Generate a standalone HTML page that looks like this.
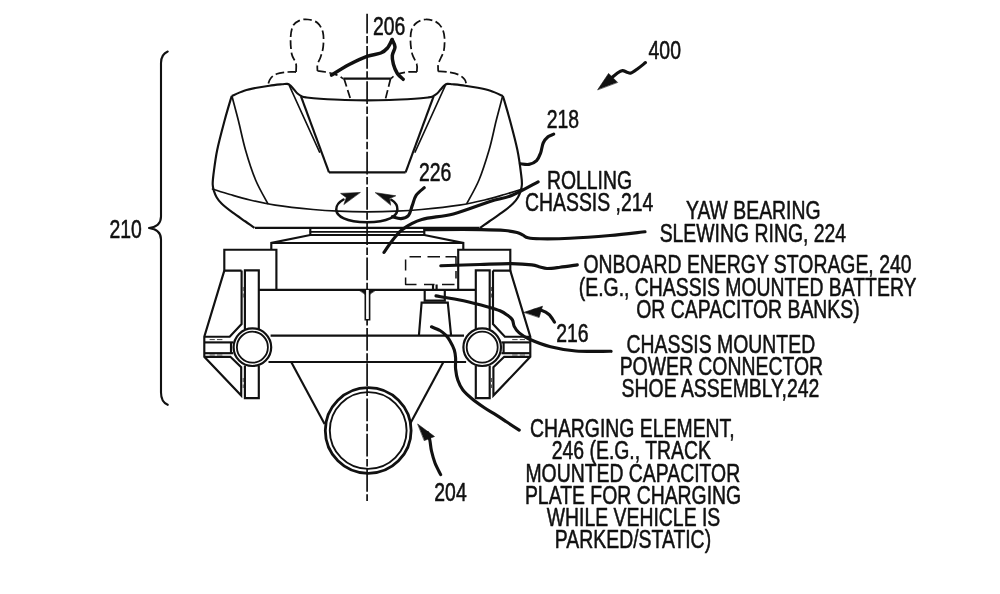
<!DOCTYPE html>
<html><head><meta charset="utf-8"><title>Figure 400</title>
<style>
html,body{margin:0;padding:0;background:#fff;}
svg{display:block;}
text{font-family:"Liberation Sans",sans-serif;font-size:25.4px;fill:#111;stroke:#111;stroke-width:0.55px;stroke-linejoin:round;}
</style></head>
<body>
<svg width="1000" height="594" viewBox="0 0 1000 594" style="will-change:transform">
<rect width="1000" height="594" fill="#fff"/>
<g fill="none" stroke="#111" stroke-linecap="round" stroke-linejoin="round">
<g stroke-width="1.75" stroke-dasharray="8.5 3.5" stroke-linecap="butt">
<path d="M296.0 72.0 C296.0 70.6 296.7 66.5 296.0 63.5 C295.3 60.5 292.7 58.5 291.8 54.2 C290.9 50.0 290.4 42.7 290.6 38.0 C290.8 33.3 291.5 28.9 292.9 26.0 C294.3 23.1 296.7 21.7 299.2 20.6 C301.7 19.5 304.9 19.1 308.0 19.5 C311.1 19.9 315.1 20.8 317.6 23.0 C320.1 25.2 322.1 28.8 323.0 32.7 C323.9 36.6 323.6 42.6 323.2 46.6 C322.8 50.6 321.6 53.8 320.7 56.7 C319.8 59.7 318.0 61.9 317.5 64.3 C317.0 66.7 317.5 69.9 317.5 71.0"/>
<path d="M296.0 72.0 C294.6 72.0 291.1 71.7 287.8 72.0 C284.6 72.3 279.4 72.9 276.5 74.0 C273.6 75.1 271.8 76.9 270.4 78.8 C268.9 80.7 268.2 84.4 267.8 85.5"/>
<path d="M317.5 71.0 C318.9 71.2 322.6 71.4 325.7 72.0 C328.8 72.6 332.9 73.5 335.8 74.6 C338.8 75.7 342.1 78.1 343.4 78.8"/>
<path d="M416.8 72.0 C416.8 70.7 417.6 67.3 416.8 64.3 C416.1 61.3 413.4 58.0 412.3 54.2 C411.2 50.4 410.6 45.7 410.5 41.6 C410.4 37.5 410.6 32.7 411.7 29.5 C412.8 26.3 414.7 24.2 417.0 22.5 C419.3 20.8 422.5 19.6 425.6 19.5 C428.7 19.4 433.0 20.2 435.7 21.6 C438.4 23.0 440.5 25.3 442.0 28.0 C443.5 30.7 444.2 34.1 444.5 37.8 C444.8 41.5 444.5 47.0 443.9 50.4 C443.3 53.8 441.8 55.7 440.8 58.0 C439.9 60.3 438.6 62.1 438.2 64.3 C437.8 66.5 438.2 70.2 438.2 71.4"/>
<path d="M416.8 72.0 C415.3 72.0 411.4 71.6 408.0 72.0 C404.6 72.4 399.4 73.5 396.6 74.6 C393.8 75.7 391.9 77.8 391.0 78.5"/>
<path d="M438.2 71.4 C439.7 71.5 443.7 71.5 447.1 72.0 C450.5 72.5 455.5 73.3 458.4 74.6 C461.3 75.9 463.3 77.7 464.7 79.6 C466.1 81.5 466.3 84.9 466.6 86.0"/>
<path d="M344.0 78.5 L350.3 98.5"/>
<path d="M390.6 78.5 L385.6 98.5"/>
<path stroke-dasharray="none" stroke-width="1.5" d="M409.5 256.8H421M427.5 256.8H440M445.5 256.8H456V264M456 271V278.5M454.5 284.4H442M434.5 284.4H424M416.5 284.4H405.6V277.5M405.6 270.5V259.5"/>
</g>
<path d="M367.1 13.8 V501" stroke-width="1.7" stroke-dasharray="22.75 2.5 7.5 2.5" stroke-dashoffset="3.15" stroke-linecap="butt" fill="none"/>
<g stroke-width="2.15" stroke-linejoin="miter" stroke-linecap="butt">
<path d="M231.7 96.0 C230.5 100.1 227.0 111.5 224.6 120.5 C222.2 129.5 219.1 140.9 217.2 150.0 C215.3 159.1 214.2 169.2 213.4 175.0 C212.7 180.8 212.6 181.9 212.7 184.5 C212.8 187.1 213.2 188.5 213.8 190.6 C214.5 192.7 215.3 195.0 216.6 197.2 C217.9 199.4 219.1 201.2 221.8 203.8 C224.5 206.4 228.9 209.8 232.8 212.7 C236.8 215.6 241.9 219.0 245.5 221.5 C249.1 224.0 253.0 226.8 254.5 227.8"/>
<path d="M502.9 96.0 C504.1 100.1 507.6 111.5 510.0 120.5 C512.4 129.5 515.5 140.9 517.4 150.0 C519.3 159.1 520.5 169.2 521.2 175.0 C522.0 180.8 522.0 181.9 521.9 184.5 C521.8 187.1 521.4 188.5 520.8 190.6 C520.1 192.7 519.3 195.0 518.0 197.2 C516.7 199.4 515.5 201.2 512.8 203.8 C510.1 206.4 505.8 209.8 501.8 212.7 C497.9 215.6 492.7 219.0 489.1 221.5 C485.5 224.0 481.6 226.8 480.1 227.8"/>
<path d="M255.0 227.8 L479.6 227.8"/>
<path d="M231.7 96.0 C233.8 95.1 240.0 92.2 244.2 90.8 C248.4 89.4 252.6 88.6 256.8 87.8 C261.0 87.0 265.2 86.3 269.4 85.7 C273.6 85.1 279.0 84.6 282.0 84.3 C285.0 84.0 285.9 83.7 287.3 83.9 C288.7 84.1 289.4 84.7 290.5 85.6 C291.6 86.5 292.8 88.2 294.0 89.5 C295.2 90.8 296.2 92.4 297.5 93.5 C298.8 94.6 300.1 95.5 301.5 96.2 C302.9 96.9 302.9 97.0 306.0 97.4 C309.1 97.8 313.5 98.4 320.0 98.8 C326.5 99.2 337.1 99.8 345.0 100.0 C352.9 100.2 359.9 100.3 367.3 100.3 C374.7 100.3 381.7 100.2 389.6 100.0 C397.5 99.8 408.1 99.2 414.6 98.8 C421.1 98.4 425.5 97.8 428.6 97.4 C431.7 97.0 431.7 96.9 433.1 96.2 C434.5 95.5 435.9 94.6 437.1 93.5 C438.4 92.4 439.4 90.8 440.6 89.5 C441.8 88.2 443.0 86.5 444.1 85.6 C445.2 84.7 445.9 84.1 447.3 83.9 C448.7 83.7 449.6 84.0 452.6 84.3 C455.6 84.6 461.0 85.1 465.2 85.7 C469.4 86.3 473.6 87.0 477.8 87.8 C482.0 88.6 486.2 89.4 490.4 90.8 C494.6 92.2 500.8 95.1 502.9 96.0"/>
<path d="M301.0 96.3 L329.0 172.3"/>
<path d="M433.6 96.3 L405.6 172.3"/>
<path d="M329.0 172.3 L405.6 172.3"/>
<path d="M310.3 227.8 L310.3 235.0"/>
<path d="M424.3 227.8 L424.3 235.0"/>
<path d="M271.3 250.0 L271.3 243.0 L310.3 235.0 L424.3 235.0 L463.3 243.0 L463.3 250.0"/>
<path d="M271.3 243.0 L463.3 243.0"/>
<path d="M241.6 270.6 L224.3 270.6 L224.3 249.7 L276.4 249.7 L276.4 289.9"/>
<path d="M493.0 270.6 L510.3 270.6 L510.3 249.7 L458.2 249.7 L458.2 289.9"/>
<path d="M258.8 289.9 L475.8 289.9"/>
<path d="M244.9 329.0 L244.9 270.4 L258.8 270.4 L258.8 329.0"/>
<path d="M489.7 329.0 L489.7 270.4 L475.8 270.4 L475.8 329.0"/>
<path d="M241.6 270.6 L241.6 324.0 L229.7 336.7 L204.3 336.7"/>
<path d="M493.0 270.6 L493.0 324.0 L504.9 336.7 L530.3 336.7"/>
<path d="M224.3 270.6 L204.3 336.7 L204.3 356.8 L241.2 395.6 L241.2 367.1 L230.4 356.8 L204.3 356.8"/>
<path d="M510.3 270.6 L530.3 336.7 L530.3 356.8 L493.4 395.6 L493.4 367.1 L504.2 356.8 L530.3 356.8"/>
<path d="M233.2 342.4 L204.8 342.4"/>
<path d="M501.4 342.4 L529.8 342.4"/>
<path d="M233.2 353.2 L204.8 353.2"/>
<path d="M501.4 353.2 L529.8 353.2"/>
<path d="M231.0 342.4 L231.0 353.2"/>
<path d="M503.6 342.4 L503.6 353.2"/>
<path d="M244.9 365.5 L244.9 398.1 L258.8 398.1 L258.8 365.5"/>
<path d="M489.7 365.5 L489.7 398.1 L475.8 398.1 L475.8 365.5"/>
<path d="M270.6 335.6 L464.0 335.6"/>
<path d="M268.5 362.0 L466.1 362.0"/>
<path d="M291.2 362.0 L324.6 424.0"/>
<path d="M443.4 362.0 L410.0 424.0"/>
<path d="M433.0 284.5 L433.0 290.0"/>
<path d="M436.6 284.5 L436.6 290.0"/>
<path d="M424.7 290.0 L424.7 300.6 L444.8 300.6 L444.8 290.0"/>
<path d="M418.9 335.6 L421.6 302.6 L447.8 302.6 L451.1 335.6"/>
<path d="M343.5 78.6 L390.8 78.6"/>
</g>
<g stroke-width="1.7">
<path d="M289.5 86.0 L319.5 152.0"/>
<path d="M445.1 86.0 L415.1 152.0"/>
<path d="M232.2 97.0 C233.2 101.0 236.3 112.2 238.5 121.0 C240.7 129.8 242.7 140.2 245.5 150.0 C248.3 159.8 251.9 171.1 255.6 180.0 C259.3 188.9 265.7 199.5 267.7 203.4"/>
<path d="M502.4 97.0 C501.4 101.0 498.3 112.2 496.1 121.0 C493.9 129.8 492.0 140.2 489.1 150.0 C486.2 159.8 482.7 171.1 479.0 180.0 C475.3 188.9 468.9 199.5 466.9 203.4"/>
<path d="M212.5 189.0 C215.4 189.9 223.8 192.7 230.0 194.5 C236.2 196.3 242.4 198.2 250.0 200.0 C257.6 201.8 264.8 203.5 275.3 205.1 C285.8 206.7 302.6 208.5 313.1 209.5 C323.6 210.5 329.4 210.8 338.4 211.2 C347.4 211.6 357.7 211.8 367.3 211.8 C376.9 211.8 387.2 211.6 396.2 211.2 C405.2 210.8 411.0 210.5 421.5 209.5 C432.0 208.5 448.8 206.7 459.3 205.1 C469.8 203.5 477.1 201.8 484.6 200.0 C492.2 198.2 498.4 196.3 504.6 194.5 C510.9 192.7 519.2 189.9 522.1 189.0"/>
<path d="M310.3 231.8 L424.3 231.8"/>
</g>
<g stroke-width="1" stroke-linecap="butt" stroke="#444">
<path d="M209.6 339.6 L214.8 339.6"/>
<path d="M525.0 339.6 L519.8 339.6"/>
<path d="M217.0 339.6 L222.4 339.6"/>
<path d="M517.6 339.6 L512.2 339.6"/>
<path d="M209.6 355.0 L214.8 355.0"/>
<path d="M525.0 355.0 L519.8 355.0"/>
<path d="M217.0 355.0 L222.4 355.0"/>
<path d="M517.6 355.0 L512.2 355.0"/>
<path d="M243.2 287.0 L243.2 291.0"/>
<path d="M491.4 287.0 L491.4 291.0"/>
<path d="M243.2 293.5 L243.2 297.5"/>
<path d="M491.4 293.5 L491.4 297.5"/>
<path d="M243.2 378.0 L243.2 382.0"/>
<path d="M491.4 378.0 L491.4 382.0"/>
<path d="M243.2 384.5 L243.2 388.0"/>
<path d="M491.4 384.5 L491.4 388.0"/>
</g>

<circle cx="252.4" cy="347.2" r="18.8" fill="#fff" stroke-width="2.2"/>
<circle cx="252.4" cy="347.2" r="15.5" fill="none" stroke-width="1.8"/>
<circle cx="482.2" cy="347.2" r="18.8" fill="#fff" stroke-width="2.2"/>
<circle cx="482.2" cy="347.2" r="15.5" fill="none" stroke-width="1.8"/>
<circle cx="368.2" cy="430.5" r="42.9" fill="none" stroke-width="2.8"/>
<circle cx="368.2" cy="430.5" r="38.4" fill="none" stroke-width="1.9"/>

<path d="M365.3 290 V319.8 H369.6 V290" fill="#fff" stroke-width="1.6" stroke-linejoin="miter"/>
<path stroke-width="2.5" d="M343.5 199.5 C333.6 205 334 214 343.8 218.3 C354.5 223.4 379.5 223.4 390.2 218.3 C399.6 214 399.6 205 391.3 199.8"/>
<g stroke-width="3.5">
<path d="M331.5 75.1 C334.4 73.3 343.3 67.6 349.2 64.5 C355.1 61.4 361.6 58.2 366.9 56.3 C372.2 54.4 377.4 54.4 380.8 53.0 C384.2 51.6 385.6 50.2 387.5 48.0 C389.4 45.8 391.3 41.0 392.1 39.6"/>
<path d="M392.1 39.6 C392.6 40.8 395.0 44.4 395.0 47.0 C395.0 49.6 392.6 52.6 392.3 55.5 C392.0 58.4 392.6 61.3 393.4 64.3 C394.2 67.2 395.6 70.7 397.2 73.2 C398.8 75.7 402.2 78.3 403.2 79.3"/>
</g>
<g stroke-width="3.15">
<path d="M553.7 134.1 C552.8 134.6 549.8 135.3 548.0 136.8 C546.2 138.3 544.4 140.3 543.2 143.0 C542.0 145.7 541.7 150.1 540.6 153.0 C539.5 155.9 538.5 158.7 536.6 160.6 C534.7 162.5 531.7 163.9 529.0 164.4 C526.3 164.9 521.8 163.9 520.4 163.8"/>
<path d="M538.1 181.8 C533.7 184.1 519.6 192.2 511.6 195.5 C503.6 198.8 499.7 198.4 490.0 201.5 C480.3 204.6 464.8 210.9 453.4 213.9 C442.0 216.9 430.2 217.0 421.8 219.5 C413.4 222.0 407.9 225.5 402.9 229.1 C397.9 232.7 395.1 237.1 392.0 241.0 C388.9 244.9 385.3 250.5 384.0 252.4"/>
<path d="M425.0 229.6 C434.4 229.6 468.0 229.4 481.3 229.6 C494.6 229.8 499.1 230.0 505.0 230.5 C510.9 231.0 514.0 231.7 517.0 232.5 C520.0 233.3 521.2 234.3 523.0 235.2 C524.8 236.1 525.2 237.2 528.0 237.8 C530.8 238.4 533.0 238.7 540.0 238.8 C547.0 238.9 558.3 238.9 570.0 238.3 C581.7 237.8 597.5 236.6 610.0 235.5 C622.5 234.4 639.2 232.4 645.0 231.8"/>
<path d="M440.8 265.7 C447.3 265.5 468.2 264.9 480.0 264.5 C491.8 264.1 503.0 263.5 511.6 263.6 C520.2 263.7 527.1 264.3 531.8 264.9 C536.5 265.5 537.5 266.4 540.0 267.0 C542.5 267.6 543.7 268.4 547.0 268.5 C550.3 268.6 555.0 267.9 560.0 267.3 C565.0 266.7 574.4 265.3 577.3 264.9"/>
<path d="M436.0 295.9 C440.6 296.7 454.9 298.9 463.6 300.8 C472.3 302.7 481.9 305.3 488.0 307.0 C494.1 308.7 496.7 309.4 500.0 310.8 C503.3 312.2 505.5 313.8 507.6 315.3 C509.7 316.8 511.3 318.0 512.4 319.9 C513.5 321.8 513.1 324.2 514.2 326.4 C515.3 328.6 516.7 330.8 519.2 332.9 C521.7 335.0 523.8 336.7 529.0 339.0 C534.2 341.3 542.7 344.8 550.5 346.8 C558.3 348.8 565.7 350.2 575.8 351.0 C585.9 351.8 605.2 351.2 611.1 351.3"/>
<path d="M431.5 326.8 C432.9 327.4 437.6 329.1 440.0 330.5 C442.4 331.9 444.3 333.6 446.0 335.4 C447.7 337.1 448.6 338.6 450.0 341.0 C451.4 343.4 453.4 347.2 454.3 350.0 C455.2 352.8 455.4 354.8 455.6 358.0 C455.8 361.2 455.2 365.3 455.6 369.0 C456.0 372.7 456.6 376.5 457.8 380.0 C459.0 383.5 460.5 386.9 462.9 390.0 C465.3 393.1 468.5 395.8 472.0 398.7 C475.5 401.6 480.1 404.8 484.0 407.5 C487.9 410.2 491.9 412.4 495.6 414.7 C499.3 417.0 502.1 418.9 506.0 421.5 C509.9 424.1 517.0 428.7 519.2 430.1"/>
<path d="M424.3 187.7 C422.9 189.0 418.1 192.4 416.1 195.3 C414.1 198.2 413.6 202.0 412.3 205.4 C411.0 208.8 410.4 213.3 408.5 215.5 C406.6 217.7 403.7 218.4 401.0 218.6 C398.3 218.8 393.9 217.0 392.5 216.7"/>
<path d="M554.5 322.2 C553.6 320.9 551.1 316.4 549.0 314.5 C546.9 312.6 544.4 311.3 541.9 310.6 C539.4 309.9 535.3 310.4 534.0 310.4"/>
<path d="M440.7 474.7 C439.8 472.8 436.5 466.9 435.0 463.0 C433.5 459.1 432.4 454.8 431.5 451.0 C430.6 447.2 430.5 443.1 429.8 440.0 C429.1 436.9 427.9 433.8 427.5 432.5"/>
<path d="M645.5 62.6 C644.2 63.6 640.4 66.8 638.0 68.5 C635.6 70.2 632.8 72.4 631.0 73.0 C629.2 73.6 628.4 72.6 627.0 72.2 C625.6 71.8 624.1 70.5 622.5 70.6 C620.9 70.7 619.2 71.8 617.5 73.0 C615.8 74.2 612.9 76.8 612.0 77.5"/>
</g>
<g stroke-width="2.1">
<path d="M167.7 51.5 C163 53.5 161 57 161 63 L161 216.5 C161 223 157.5 227 149 228 C157.5 229 161 233 161 239.5 L161 392.5 C161 399 163 402.8 167.7 404.8"/>
</g>
<g fill="#111" stroke-width="0.6">
<path d="M359.0 290.0 L365.0 290.0 L365.0 294.0Z"/>
<path d="M375.8 290.0 L369.8 290.0 L369.8 294.0Z"/>
<path d="M360.0 192.5 L340.6 193.4 L346.3 197.6 L344.0 204.2Z"/>
<path d="M375.6 192.7 L395.8 195.8 L389.6 198.6 L390.6 204.8Z"/>
<path d="M524.2 312.3 L542.5 306.2 L539.2 317.2Z"/>
<path d="M417.9 424.2 L434.5 436.5 L424.5 440.5Z"/>
<path d="M597.8 89.6 L608.6 73.4 L617.4 82.2Z"/>
</g>
</g>
<g>
<text transform="translate(546.94 189.00) scale(0.764 1)">ROLLING</text>
<text transform="translate(524.99 211.00) scale(0.764 1)">CHASSIS ,214</text>
<text transform="translate(685.88 219.00) scale(0.764 1)">YAW BEARING</text>
<text transform="translate(659.64 242.00) scale(0.764 1)">SLEWING RING, 224</text>
<text transform="translate(583.44 273.00) scale(0.764 1)">ONBOARD ENERGY STORAGE, 240</text>
<text transform="translate(578.76 296.00) scale(0.764 1)">(E.G., CHASSIS MOUNTED BATTERY</text>
<text transform="translate(636.20 318.00) scale(0.764 1)">OR CAPACITOR BANKS)</text>
<text transform="translate(626.53 353.00) scale(0.764 1)">CHASSIS MOUNTED</text>
<text transform="translate(619.68 375.00) scale(0.764 1)">POWER CONNECTOR</text>
<text transform="translate(621.59 397.00) scale(0.764 1)">SHOE ASSEMBLY,242</text>
<text transform="translate(529.88 437.00) scale(0.764 1)">CHARGING ELEMENT,</text>
<text transform="translate(551.73 459.00) scale(0.764 1)">246 (E.G., TRACK</text>
<text transform="translate(525.38 482.00) scale(0.764 1)">MOUNTED CAPACITOR</text>
<text transform="translate(524.90 504.00) scale(0.764 1)">PLATE FOR CHARGING</text>
<text transform="translate(546.75 526.00) scale(0.764 1)">WHILE VEHICLE IS</text>
<text transform="translate(554.82 548.00) scale(0.764 1)">PARKED/STATIC)</text>
<text transform="translate(109.43 238.00) scale(0.764 1)">210</text>
<text transform="translate(648.57 59.00) scale(0.764 1)">400</text>
<text transform="translate(546.63 128.00) scale(0.764 1)">218</text>
<text transform="translate(556.18 342.00) scale(0.764 1)">216</text>
<text transform="translate(418.88 181.00) scale(0.764 1)">226</text>
<text transform="translate(372.88 35.00) scale(0.764 1)">206</text>
<text transform="translate(434.33 501.00) scale(0.764 1)">204</text>
</g>
</svg>
</body></html>
